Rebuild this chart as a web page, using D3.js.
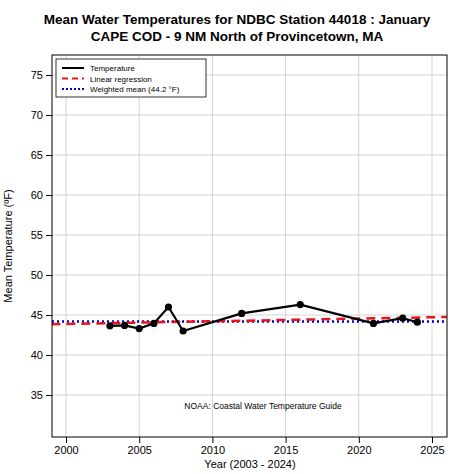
<!DOCTYPE html>
<html><head><meta charset="utf-8">
<script src="https://cdn.jsdelivr.net/npm/d3@7"></script>
<style>body{margin:0;background:#fff}text{font-family:"Liberation Sans",Arial,sans-serif}</style>
</head><body><svg width="474" height="474"></svg>
<script>
const years = [2003, 2004, 2005, 2006, 2007, 2008, 2012, 2016, 2021, 2023, 2024];
const temps = [43.65, 43.7, 43.3, 43.95, 46.0, 43.0, 45.2, 46.3, 43.95, 44.6, 44.1];
const regression = [[1999, 43.85], [2026, 44.75]];
const weightedMean = 44.2;
const xTicks = [2000, 2005, 2010, 2015, 2020, 2025];
const yTicks = [35, 40, 45, 50, 55, 60, 65, 70, 75];

const svg = d3.select("svg");
const L = 52, R = 447, T = 55, B = 437;
const x = d3.scaleLinear().domain([2000, 2025]).range([66, 432]);
const y = d3.scaleLinear().domain([40, 45]).range([355, 315]);

// grid
svg.append("g").selectAll("line").data(xTicks).enter().append("line")
  .attr("x1", d => x(d)).attr("x2", d => x(d)).attr("y1", T).attr("y2", B)
  .attr("stroke", "#d3d3d3");
svg.append("g").selectAll("line").data(yTicks).enter().append("line")
  .attr("x1", L).attr("x2", R).attr("y1", d => y(d)).attr("y2", d => y(d))
  .attr("stroke", "#d3d3d3");

svg.append("clipPath").attr("id", "c").append("rect")
  .attr("x", L).attr("y", T).attr("width", R - L).attr("height", B - T);
const g = svg.append("g").attr("clip-path", "url(#c)");

g.append("line").attr("x1", L).attr("x2", R)
  .attr("y1", y(weightedMean)).attr("y2", y(weightedMean))
  .attr("stroke", "#0000cc").attr("stroke-width", 2.5).attr("stroke-dasharray", "2,3");
g.append("path").datum(regression)
  .attr("d", d3.line().x(d => x(d[0])).y(d => y(d[1])))
  .attr("stroke", "#e8141c").attr("stroke-width", 2.5).attr("fill", "none")
  .attr("stroke-dasharray", "9,6");

const pts = years.map((d, i) => [d, temps[i]]);
g.append("path").datum(pts)
  .attr("d", d3.line().x(d => x(d[0])).y(d => y(d[1])))
  .attr("stroke", "#000").attr("stroke-width", 2.2).attr("fill", "none");
g.selectAll("circle").data(pts).enter().append("circle")
  .attr("cx", d => x(d[0])).attr("cy", d => y(d[1])).attr("r", 3.6).attr("fill", "#000");

svg.append("rect").attr("x", L).attr("y", T).attr("width", R - L).attr("height", B - T)
  .attr("fill", "none").attr("stroke", "#000");

// axes
svg.append("g").attr("transform", `translate(0,${B})`)
  .call(d3.axisBottom(x).tickValues(xTicks).tickFormat(d3.format("d")).tickSizeOuter(0))
  .call(a => a.select(".domain").remove())
  .call(a => a.selectAll("text").attr("font-size", 11).attr("fill", "#000"));
svg.append("g").attr("transform", `translate(${L},0)`)
  .call(d3.axisLeft(y).tickValues(yTicks).tickFormat(d3.format("d")).tickSizeOuter(0))
  .call(a => a.select(".domain").remove())
  .call(a => a.selectAll("text").attr("font-size", 11).attr("fill", "#000"));

svg.append("text").attr("x", 237).attr("y", 24).attr("text-anchor", "middle")
  .attr("font-size", 13.5).attr("font-weight", "bold")
  .text("Mean Water Temperatures for NDBC Station 44018 : January");
svg.append("text").attr("x", 237).attr("y", 41).attr("text-anchor", "middle")
  .attr("font-size", 13.5).attr("font-weight", "bold")
  .text("CAPE COD - 9 NM North of Provincetown, MA");
svg.append("text").attr("x", 250).attr("y", 468).attr("text-anchor", "middle")
  .attr("font-size", 11).text("Year (2003 - 2024)");
svg.append("text").attr("transform", "translate(12,246) rotate(-90)").attr("text-anchor", "middle")
  .attr("font-size", 11).text("Mean Temperature (ºF)");
svg.append("text").attr("x", 263).attr("y", 409).attr("text-anchor", "middle")
  .attr("font-size", 8.5).text("NOAA: Coastal Water Temperature Guide");

// legend
const lg = svg.append("g").attr("transform", "translate(56,59)");
lg.append("rect").attr("width", 150).attr("height", 38).attr("fill", "#fff").attr("stroke", "#000").attr("stroke-width", 0.8);
const items = [
  {t: "Temperature", c: "#000", dash: null},
  {t: "Linear regression", c: "#e8141c", dash: "6,4"},
  {t: "Weighted mean (44.2 °F)", c: "#0000cc", dash: "2,2"}
];
items.forEach((d, i) => {
  const yy = 9 + i * 10.5;
  lg.append("line").attr("x1", 6).attr("x2", 28).attr("y1", yy).attr("y2", yy)
    .attr("stroke", d.c).attr("stroke-width", 2).attr("stroke-dasharray", d.dash);
  lg.append("text").attr("x", 34).attr("y", yy + 3).attr("font-size", 8).text(d.t);
});
</script></body></html>
